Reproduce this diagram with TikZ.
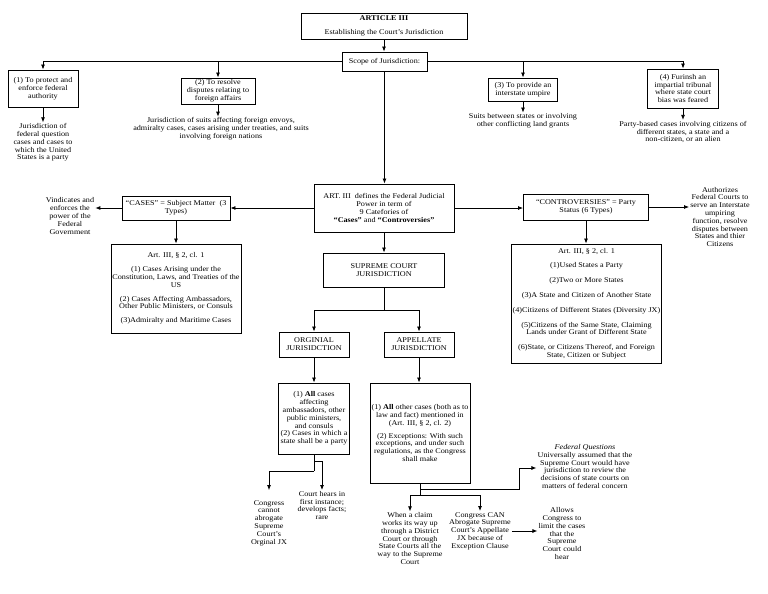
\documentclass[tikz,border=0pt]{standalone}
\usepackage{fontspec}
\setmainfont{Liberation Serif}[FakeStretch=1.12]
\usetikzlibrary{arrows.meta,calc}

\begin{document}
\begin{tikzpicture}[x=1pt,y=-1pt,font=\fontsize{7.3}{7.8}\selectfont,
  box/.style={draw, line width=0.9pt, align=center, inner sep=1pt},
  txt/.style={align=center, inner sep=1pt}]
\tikzstyle{con}=[-{Latex[length=5pt,width=4pt]}, line width=0.8pt]
\useasboundingbox (0,0) rectangle (768,594);
% top of the chart
\node[box, minimum width=166, minimum height=26] (art) at (384,26) {\textbf{ARTICLE III}\\[6pt]Establishing the Court's Jurisdiction};
\node[box, minimum width=85, minimum height=19] (scope) at (384.5,61.5) {Scope of Jurisdiction:};
\node[box, minimum width=70, minimum height=37] (b1) at (43,88.5) {(1) To protect and\\enforce federal\\authority};
\node[box, minimum width=74, minimum height=26] (b2) at (218,91) {(2) To resolve\\disputes relating to\\foreign affairs};
\node[box, minimum width=69, minimum height=23] (b3) at (523,89.5) {(3) To provide an\\interstate umpire};
\node[box, minimum width=71, minimum height=39] (b4) at (683,88.5) {(4) Furinsh an\\impartial tribunal\\where state court\\bias was feared};
\node[txt] (t1) at (43,142.5) {Jurisdiction of\\federal question\\cases and cases to\\which the United\\States is a party};
\node[txt] (t2) at (221,129) {Jurisdiction of suits affecting foreign envoys,\\admiralty cases, cases arising under treaties, and suits\\involving foreign nations};
\node[txt] (t3) at (523,121) {Suits between states or involving\\other conflicting land grants};
\node[txt] (t4) at (683,132) {Party-based cases involving citizens of\\different states, a state and a\\non-citizen, or an alien};
% cases and controversies
\node[box, minimum width=140, minimum height=48] (def) at (384,208) {ART. III\ \ defines the Federal Judicial\\Power in term of\\9 Catefories of\\\textbf{``Cases''} and \textbf{``Controversies''}};
\node[box, minimum width=108, minimum height=24] (cases) at (176,208) {``CASES'' = Subject Matter\ \ (3\\Types)};
\node[txt] (vind) at (70,216) {Vindicates and\\enforces the\\power of the\\Federal\\Government};
\node[box, minimum width=130, minimum height=89] (casesd) at (176,288.5) {Art. III, § 2, cl. 1\\[6pt](1) Cases Arising under the\\Constitution, Laws, and Treaties of the\\US\\[6pt](2) Cases Affecting Ambassadors,\\Other Public Ministers, or Consuls\\[6pt](3)Admiralty and Maritime Cases};
\node[box, minimum width=125, minimum height=26] (contr) at (586,207) {``CONTROVERSIES'' = Party\\Status (6 Types)};
\node[txt] (auth) at (720,217) {Authorizes\\Federal Courts to\\serve an Interstate\\umpiring\\function, resolve\\disputes between\\States and thier\\Citizens};
\node[box, minimum width=149, minimum height=119] (contrd) at (586.5,303.5) {Art. III, § 2, cl. 1\\[7pt](1)Used States a Party\\[7pt](2)Two or More States\\[7pt](3)A State and Citizen of Another State\\[7pt](4)Citizens of Different States (Diversity JX)\\[7pt](5)Citizens of the Same State, Claiming\\Lands under Grant of Different State\\[7pt](6)State, or Citizens Thereof, and Foreign\\State, Citizen or Subject};
% supreme court
\node[box, minimum width=121, minimum height=34] (sc) at (384,270) {SUPREME COURT\\JURISDICTION};
\node[box, minimum width=70, minimum height=25] (orig) at (314,344.5) {ORGINIAL\\JURISIDCTION};
\node[box, minimum width=70, minimum height=25] (appel) at (419,344.5) {APPELLATE\\JURISDICTION};
\node[box, minimum width=71, minimum height=71] (origd) at (314,418.5) {(1) \textbf{All} cases\\affecting\\ambassadors, other\\public ministers,\\and consuls\\(2) Cases in which a\\state shall be a party};
\node[box, minimum width=100, minimum height=100] (appeld) at (420,433) {(1) \textbf{All} other cases (both as to\\law and fact) mentioned in\\(Art. III, § 2, cl. 2)\\[5pt](2) Exceptions: With such\\exceptions, and under such\\regulations, as the Congress\\shall make};
\node[txt] (cong1) at (269,523) {Congress\\cannot\\abrogate\\Supreme\\Court's\\Orginal JX};
\node[txt] (court) at (322,505.5) {Court hears in\\first instance;\\develops facts;\\rare};
\node[txt] (claim) at (410,538.5) {When a claim\\works its way up\\through a District\\Court or through\\State Courts all the\\way to the Supreme\\Court};
\node[txt] (cong2) at (480,531) {Congress CAN\\Abrogate Supreme\\Court's Appellate\\JX because of\\Exception Clause};
\node[txt] (allows) at (562,533.5) {Allows\\Congress to\\limit the cases\\that the\\Supreme\\Court could\\hear};
\node[txt] (fedq) at (585,466.5) {\textit{Federal Questions}\\Universally assumed that the\\Supreme Court would have\\jurisdiction to review the\\decisions of state courts on\\matters of federal concern};
% connectors
\draw[con] (art.south) -- (art.south |- scope.north);
\foreach \b in {b1,b2}{\draw[con] (scope.west) -| (\b.north);}
\foreach \b in {b3,b4}{\draw[con] (scope.east) -| (\b.north);}
\foreach \a/\b in {b1/t1,b2/t2,b3/t3,b4/t4,cases/casesd,contr/contrd,orig/origd,appel/appeld,scope/def,def/sc}{\draw[con] (\a.south) -- (\a.south |- \b.north);}
\draw[con] (def.west) -- (def.west -| cases.east);
\draw[con] (def.east) -- (def.east -| contr.west);
\draw[con] (cases.west) -- (cases.west -| vind.east);
\draw[con] (contr.east) -- (contr.east -| auth.west);
\coordinate (scfork) at (384,310);
\draw[line width=0.8pt] (sc.south) -- (scfork);
\foreach \b in {orig,appel}{\draw[con] (scfork) -| (\b.north);}
\coordinate (ofork1) at (314,461);
\coordinate (ofork2) at (314,471);
\draw[line width=0.8pt] (origd.south) -- (ofork2);
\draw[con] (ofork1) -| (court.north);
\draw[con, shorten >=9pt] (ofork2) -| (cong1.north);
\coordinate (afork1) at (420,489);
\coordinate (afork2) at (420,495);
\coordinate (fqturn) at (519,468);
\draw[line width=0.8pt] (appeld.south) -- (afork2);
\draw[con] (afork1) -| (fqturn) -- (fqturn -| fedq.west);
\foreach \b in {claim,cong2}{\draw[con] (afork2) -| (\b.north);}
\draw[con] (cong2.east) -- (cong2.east -| allows.west);
\end{tikzpicture}
\end{document}
